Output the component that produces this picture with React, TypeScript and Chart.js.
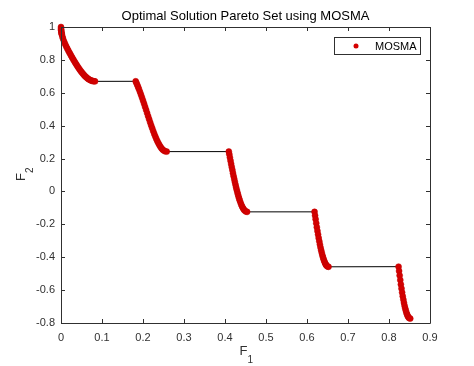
import React, { useEffect, useRef } from "react";
import { Chart, registerables } from "chart.js";

Chart.register(...registerables);

const F1: number[] = [
  0, 0.0001, 0.0003, 0.0005, 0.001, 0.0015, 0.002, 0.0035, 0.005, 0.0075, 0.01, 0.0125, 0.015, 0.0175, 0.02, 0.0225, 0.025, 0.0275, 0.03, 0.0325,
  0.035, 0.0375, 0.04, 0.0425, 0.045, 0.0475, 0.05, 0.0525, 0.055, 0.0575, 0.06, 0.0625, 0.065, 0.0675, 0.07, 0.0725, 0.075, 0.0775, 0.08, 0.083,
  0.1822, 0.184, 0.186, 0.188, 0.19, 0.1925, 0.195, 0.1975, 0.2, 0.2025, 0.205, 0.2075, 0.21, 0.2125, 0.215, 0.2175, 0.22, 0.2225, 0.225, 0.2275,
  0.23, 0.2325, 0.235, 0.2375, 0.24, 0.2425, 0.245, 0.2475, 0.25, 0.2535, 0.2578,
  0.4093, 0.4105, 0.412, 0.4135, 0.415, 0.4165, 0.418, 0.4195, 0.421, 0.4225, 0.424, 0.4255, 0.427, 0.4285, 0.43, 0.4315, 0.433, 0.4345, 0.436,
  0.438, 0.44, 0.442, 0.444, 0.446, 0.448, 0.451, 0.4539,
  0.6184, 0.6197, 0.621, 0.6225, 0.624, 0.6255, 0.627, 0.6285, 0.63, 0.6315, 0.633, 0.6345, 0.636, 0.6375, 0.639, 0.6405, 0.642, 0.6435, 0.645,
  0.6465, 0.648, 0.65, 0.6525,
  0.8233, 0.8246, 0.826, 0.8275, 0.829, 0.8305, 0.832, 0.8335, 0.835, 0.8365, 0.838, 0.8395, 0.841, 0.8425, 0.844, 0.8455, 0.847, 0.849, 0.8518,
];
const F2: number[] = [
  1, 0.99, 0.9827, 0.9776, 0.968, 0.9612, 0.955, 0.9404, 0.9285, 0.9116, 0.8969, 0.8834, 0.8707, 0.8586, 0.8468, 0.8354, 0.8242, 0.8133, 0.8025, 0.792,
  0.7817, 0.7717, 0.762, 0.7525, 0.7434, 0.7347, 0.7264, 0.7186, 0.7112, 0.7043, 0.698, 0.6923, 0.6871, 0.6826, 0.6788, 0.6756, 0.6731, 0.6713, 0.6702, 0.6695,
  0.6698, 0.6596, 0.6479, 0.6356, 0.6228, 0.6062, 0.5889, 0.5711, 0.5528, 0.5341, 0.5152, 0.4961, 0.4768, 0.4577, 0.4387, 0.42, 0.4017, 0.3838, 0.3666, 0.35,
  0.3343, 0.3196, 0.3058, 0.2933, 0.2819, 0.2718, 0.2629, 0.2558, 0.25, 0.2445, 0.2422,
  0.2423, 0.2263, 0.2065, 0.1868, 0.1674, 0.1482, 0.1298, 0.1111, 0.0931, 0.0756, 0.0584, 0.0421, 0.0262, 0.011, -0.0036, -0.0176, -0.0308, -0.0432, -0.0549,
  -0.0691, -0.0817, -0.0929, -0.1023, -0.1103, -0.1164, -0.1224, -0.1242,
  -0.1241, -0.1467, -0.1687, -0.1932, -0.2173, -0.2401, -0.2621, -0.2833, -0.3034, -0.3225, -0.3406, -0.3574, -0.3731, -0.3874, -0.4007, -0.4125, -0.4227, -0.4323, -0.4404,
  -0.4467, -0.4517, -0.4562, -0.4583,
  -0.4574, -0.4838, -0.511, -0.5389, -0.5654, -0.5907, -0.6143, -0.637, -0.6578, -0.677, -0.6947, -0.7104, -0.7245, -0.7371, -0.7475, -0.7565, -0.7635, -0.77, -0.7733,
];
const X_TICKS: number[] = [0, 0.1, 0.2, 0.3, 0.4, 0.5, 0.6, 0.7, 0.8, 0.9];
const Y_TICKS: number[] = [-0.8, -0.6, -0.4, -0.2, 0, 0.2, 0.4, 0.6, 0.8, 1];
const TITLE = "Optimal Solution Pareto Set using MOSMA";
const SERIES_NAME = "MOSMA";

const FONT = "Arial, 'Liberation Sans', Helvetica, sans-serif";
const AXIS_COLOR = "#303030";
const RED = "#d40000";

const framePlugin = {
  id: "frame",
  afterDraw(chart: any) {
    const { ctx, chartArea } = chart;
    const { left, right, top, bottom } = chartArea;
    const xs = chart.scales.x;
    const ys = chart.scales.y;
    ctx.save();
    ctx.strokeStyle = AXIS_COLOR;
    ctx.lineWidth = 1;
    ctx.beginPath();
    ctx.rect(Math.round(left) + 0.5, Math.round(top) + 0.5, Math.round(right - left), Math.round(bottom - top));
    ctx.stroke();
    const tl = 4;
    ctx.beginPath();
    X_TICKS.forEach((v) => {
      const px = Math.round(xs.getPixelForValue(v)) + 0.5;
      ctx.moveTo(px, bottom);
      ctx.lineTo(px, bottom - tl);
      ctx.moveTo(px, top);
      ctx.lineTo(px, top + tl);
    });
    Y_TICKS.forEach((v) => {
      const py = Math.round(ys.getPixelForValue(v)) + 0.5;
      ctx.moveTo(left, py);
      ctx.lineTo(left + tl, py);
      ctx.moveTo(right, py);
      ctx.lineTo(right - tl, py);
    });
    ctx.stroke();

    // title
    ctx.fillStyle = "#000";
    ctx.font = `13px ${FONT}`;
    ctx.textAlign = "center";
    ctx.textBaseline = "alphabetic";
    ctx.fillText(TITLE, (left + right) / 2, 20);

    // x axis label F1
    ctx.fillStyle = AXIS_COLOR;
    ctx.font = `13px ${FONT}`;
    ctx.textAlign = "left";
    const cx = (left + right) / 2;
    ctx.fillText("F", cx - 6, 355);
    ctx.font = `10px ${FONT}`;
    ctx.fillText("1", cx + 2, 363);

    // y axis label F2
    ctx.save();
    ctx.translate(25, (top + bottom) / 2);
    ctx.rotate(-Math.PI / 2);
    ctx.font = `13px ${FONT}`;
    ctx.fillText("F", -6, 0);
    ctx.font = `10px ${FONT}`;
    ctx.fillText("2", 2, 8);
    ctx.restore();

    // legend
    const lx = 334.5, ly = 37.5, lw = 86, lh = 17;
    ctx.fillStyle = "#fff";
    ctx.fillRect(lx, ly, lw, lh);
    ctx.strokeStyle = AXIS_COLOR;
    ctx.strokeRect(lx, ly, lw, lh);
    ctx.fillStyle = RED;
    ctx.beginPath();
    ctx.arc(356, 46, 2.5, 0, Math.PI * 2);
    ctx.fill();
    ctx.fillStyle = "#000";
    ctx.font = `11px ${FONT}`;
    ctx.textAlign = "left";
    ctx.textBaseline = "middle";
    ctx.fillText(SERIES_NAME, 375, 46.5);
    ctx.restore();
  },
};

export default function App() {
  const ref = useRef<HTMLCanvasElement | null>(null);
  useEffect(() => {
    document.body.style.margin = "0";
    const pts = F1.map((x, i) => ({ x, y: F2[i] }));
    const chart = new Chart(ref.current as HTMLCanvasElement, {
      type: "scatter",
      data: {
        datasets: [
          {
            label: "line",
            data: pts,
            showLine: true,
            borderColor: "#000",
            borderWidth: 1,
            pointRadius: 0,
            clip: false,
            order: 2,
          } as any,
          {
            label: SERIES_NAME,
            data: pts,
            showLine: false,
            pointRadius: 3,
            pointBackgroundColor: RED,
            pointBorderColor: "#c00000",
            pointBorderWidth: 0.5,
            clip: false,
            order: 1,
          } as any,
        ],
      },
      options: {
        animation: false,
        responsive: false,
        maintainAspectRatio: false,
        layout: { padding: { top: 27, right: 44, left: 0, bottom: 0 } },
        plugins: {
          legend: { display: false },
          title: { display: false },
          tooltip: { enabled: false },
        },
        scales: {
          x: {
            type: "linear",
            min: 0,
            max: 0.9,
            afterFit: (s: any) => {
              s.height = 43;
            },
            afterBuildTicks: (s: any) => {
              s.ticks = X_TICKS.map((v) => ({ value: v }));
            },
            grid: { display: false, drawTicks: false },
            border: { display: false },
            ticks: {
              padding: 8,
              color: AXIS_COLOR,
              font: { family: FONT, size: 11 },
              callback: (v: any) => String(Math.round(Number(v) * 10) / 10),
            },
          },
          y: {
            type: "linear",
            min: -0.8,
            max: 1,
            afterFit: (s: any) => {
              s.width = 61;
            },
            afterBuildTicks: (s: any) => {
              s.ticks = Y_TICKS.map((v) => ({ value: v }));
            },
            grid: { display: false, drawTicks: false },
            border: { display: false },
            ticks: {
              padding: 6,
              color: AXIS_COLOR,
              font: { family: FONT, size: 11 },
              callback: (v: any) => String(Math.round(Number(v) * 10) / 10),
            },
          },
        },
      },
      plugins: [framePlugin],
    });
    return () => chart.destroy();
  }, []);
  return (
    <div style={{ position: "relative", width: 474, height: 366, background: "#fff" }}>
      <canvas ref={ref} width={474} height={366} style={{ display: "block" }} />
    </div>
  );
}
